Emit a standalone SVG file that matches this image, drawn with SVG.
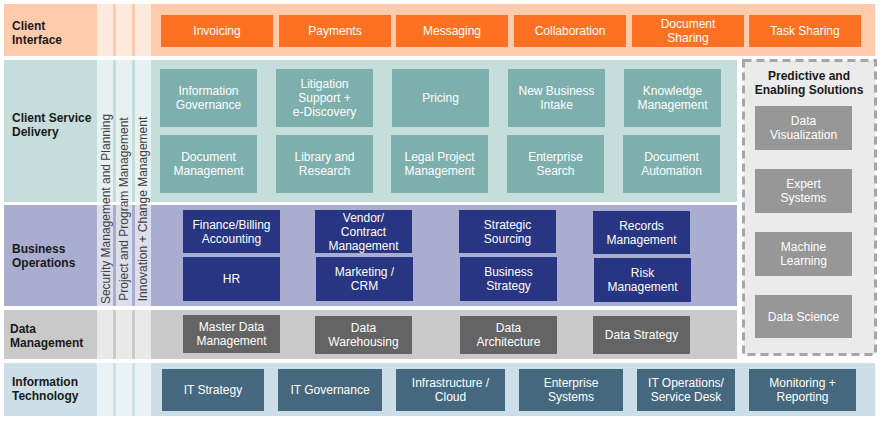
<svg xmlns="http://www.w3.org/2000/svg" width="885" height="423" viewBox="0 0 885 423">
<style>
text{font-family:"Liberation Sans",Arial,sans-serif;font-size:12px}
.lbl{font-weight:bold;fill:#1a1a1a}
.bt{fill:#ffffff;text-anchor:middle}
.vt{fill:#404040;text-anchor:middle}
.strip{fill:#ffffff;fill-opacity:0.6}
.or{fill:#FF7122}
.te{fill:#7DAFAD}
.nv{fill:#283582}
.dg{fill:#646464}
.sl{fill:#45687E}
.pg{fill:#979797}
.ttl{font-weight:bold;fill:#1a1a1a;text-anchor:middle}
</style>
<rect x="0" y="0" width="885" height="423" fill="#ffffff"/>
<g id="bands">
<rect x="4" y="4" width="871" height="52" fill="#FECBAC"/>
<rect x="4" y="60" width="733" height="142" fill="#C5DDDB"/>
<rect x="4" y="205" width="733" height="101" fill="#A9ADCF"/>
<rect x="4" y="310" width="733" height="49" fill="#C9C9C9"/>
<rect x="4" y="363" width="871" height="53" fill="#CCDFE8"/>
</g>
<g id="strips">
<rect class="strip" x="97" y="4" width="16" height="412"/>
<rect class="strip" x="116" y="4" width="16" height="412"/>
<rect class="strip" x="135" y="4" width="16" height="412"/>
<text class="vt" transform="translate(109.5,209) rotate(-90)">Security Management and Planning</text>
<text class="vt" transform="translate(128,209) rotate(-90)">Project and Program Management</text>
<text class="vt" transform="translate(146.5,209) rotate(-90)">Innovation + Change Management</text>
</g>
<g id="row-labels">
<text class="lbl" x="12" y="30">Client</text><text class="lbl" x="12" y="44">Interface</text>
<text class="lbl" x="12" y="122">Client Service</text><text class="lbl" x="12" y="136">Delivery</text>
<text class="lbl" x="12" y="253">Business</text><text class="lbl" x="12" y="267">Operations</text>
<text class="lbl" x="10" y="333">Data</text><text class="lbl" x="10" y="347">Management</text>
<text class="lbl" x="12" y="386">Information</text><text class="lbl" x="12" y="400">Technology</text>
</g>
<g id="connectors"/>
<g id="invoicing"><rect class="or" x="161" y="15" width="112" height="32"/><text class="bt" x="217" y="35.3">Invoicing</text></g>
<g id="payments"><rect class="or" x="279" y="15" width="112" height="32"/><text class="bt" x="335" y="35.3">Payments</text></g>
<g id="messaging"><rect class="or" x="396" y="15" width="112" height="32"/><text class="bt" x="452" y="35.3">Messaging</text></g>
<g id="collaboration"><rect class="or" x="514" y="15" width="112" height="32"/><text class="bt" x="570" y="35.3">Collaboration</text></g>
<g id="document-sharing"><rect class="or" x="632" y="15" width="112" height="32"/><text class="bt" x="688" y="28.3">Document</text><text class="bt" x="688" y="42.3">Sharing</text></g>
<g id="task-sharing"><rect class="or" x="749" y="15" width="112" height="32"/><text class="bt" x="805" y="35.3">Task Sharing</text></g>

<g id="information-governance"><rect class="te" x="160" y="69" width="97" height="58"/><text class="bt" x="208.5" y="95.3">Information</text><text class="bt" x="208.5" y="109.3">Governance</text></g>
<g id="litigation-support"><rect class="te" x="276" y="69" width="97" height="58"/><text class="bt" x="324.5" y="88.3">Litigation</text><text class="bt" x="324.5" y="102.3">Support +</text><text class="bt" x="324.5" y="116.3">e-Discovery</text></g>
<g id="pricing"><rect class="te" x="392" y="69" width="97" height="58"/><text class="bt" x="440.5" y="102.3">Pricing</text></g>
<g id="new-business-intake"><rect class="te" x="508" y="69" width="97" height="58"/><text class="bt" x="556.5" y="95.3">New Business</text><text class="bt" x="556.5" y="109.3">Intake</text></g>
<g id="knowledge-management"><rect class="te" x="624" y="69" width="97" height="58"/><text class="bt" x="672.5" y="95.3">Knowledge</text><text class="bt" x="672.5" y="109.3">Management</text></g>
<g id="document-management"><rect class="te" x="160" y="135" width="97" height="58"/><text class="bt" x="208.5" y="161.3">Document</text><text class="bt" x="208.5" y="175.3">Management</text></g>
<g id="library-research"><rect class="te" x="276" y="135" width="97" height="58"/><text class="bt" x="324.5" y="161.3">Library and</text><text class="bt" x="324.5" y="175.3">Research</text></g>
<g id="legal-project-management"><rect class="te" x="391" y="135" width="97" height="58"/><text class="bt" x="439.5" y="161.3">Legal Project</text><text class="bt" x="439.5" y="175.3">Management</text></g>
<g id="enterprise-search"><rect class="te" x="507" y="135" width="97" height="58"/><text class="bt" x="555.5" y="161.3">Enterprise</text><text class="bt" x="555.5" y="175.3">Search</text></g>
<g id="document-automation"><rect class="te" x="623" y="135" width="97" height="58"/><text class="bt" x="671.5" y="161.3">Document</text><text class="bt" x="671.5" y="175.3">Automation</text></g>

<g id="finance-billing"><rect class="nv" x="183" y="210" width="97" height="43"/><text class="bt" x="231.5" y="229.3">Finance/Billing</text><text class="bt" x="231.5" y="243.3">Accounting</text></g>
<g id="vendor-contract"><rect class="nv" x="315" y="210" width="97" height="43"/><text class="bt" x="363.5" y="221.8">Vendor/</text><text class="bt" x="363.5" y="235.8">Contract</text><text class="bt" x="363.5" y="249.8">Management</text></g>
<g id="strategic-sourcing"><rect class="nv" x="459" y="210" width="97" height="43"/><text class="bt" x="507.5" y="229.3">Strategic</text><text class="bt" x="507.5" y="243.3">Sourcing</text></g>
<g id="records-management"><rect class="nv" x="593" y="211" width="97" height="43"/><text class="bt" x="641.5" y="230.3">Records</text><text class="bt" x="641.5" y="244.3">Management</text></g>
<g id="hr"><rect class="nv" x="183" y="257" width="97" height="44"/><text class="bt" x="231.5" y="283.3">HR</text></g>
<g id="marketing-crm"><rect class="nv" x="316" y="257" width="97" height="44"/><text class="bt" x="364.5" y="276.3">Marketing /</text><text class="bt" x="364.5" y="290.3">CRM</text></g>
<g id="business-strategy"><rect class="nv" x="460" y="257" width="97" height="44"/><text class="bt" x="508.5" y="276.3">Business</text><text class="bt" x="508.5" y="290.3">Strategy</text></g>
<g id="risk-management"><rect class="nv" x="594" y="258" width="97" height="44"/><text class="bt" x="642.5" y="277.3">Risk</text><text class="bt" x="642.5" y="291.3">Management</text></g>

<g id="master-data-management"><rect class="dg" x="183" y="315" width="97" height="38"/><text class="bt" x="231.5" y="331.3">Master Data</text><text class="bt" x="231.5" y="345.3">Management</text></g>
<g id="data-warehousing"><rect class="dg" x="315" y="316" width="97" height="38"/><text class="bt" x="363.5" y="332.3">Data</text><text class="bt" x="363.5" y="346.3">Warehousing</text></g>
<g id="data-architecture"><rect class="dg" x="460" y="316" width="97" height="38"/><text class="bt" x="508.5" y="332.3">Data</text><text class="bt" x="508.5" y="346.3">Architecture</text></g>
<g id="data-strategy"><rect class="dg" x="593" y="316" width="97" height="38"/><text class="bt" x="641.5" y="339.3">Data Strategy</text></g>

<g id="it-strategy"><rect class="sl" x="162" y="369" width="102" height="42"/><text class="bt" x="213" y="394.3">IT Strategy</text></g>
<g id="it-governance"><rect class="sl" x="278" y="369" width="104" height="42"/><text class="bt" x="330" y="394.3">IT Governance</text></g>
<g id="infrastructure-cloud"><rect class="sl" x="396" y="369" width="109" height="42"/><text class="bt" x="450.5" y="387.3">Infrastructure /</text><text class="bt" x="450.5" y="401.3">Cloud</text></g>
<g id="enterprise-systems"><rect class="sl" x="519" y="369" width="104" height="42"/><text class="bt" x="571" y="387.3">Enterprise</text><text class="bt" x="571" y="401.3">Systems</text></g>
<g id="it-operations"><rect class="sl" x="637" y="369" width="98" height="42"/><text class="bt" x="686" y="387.3">IT Operations/</text><text class="bt" x="686" y="401.3">Service Desk</text></g>
<g id="monitoring-reporting"><rect class="sl" x="749" y="369" width="107" height="42"/><text class="bt" x="802.5" y="387.3">Monitoring +</text><text class="bt" x="802.5" y="401.3">Reporting</text></g>

<g id="predictive-enabling-solutions">
<rect x="743.5" y="60.5" width="132" height="294" fill="#EBEBEB" stroke="#A6A6A6" stroke-width="3" stroke-dasharray="8 5"/>
<text class="ttl" x="809" y="80">Predictive and</text>
<text class="ttl" x="809" y="94">Enabling Solutions</text>
</g>
<g id="data-visualization"><rect class="pg" x="755" y="106" width="97" height="44"/><text class="bt" x="803.5" y="125.3">Data</text><text class="bt" x="803.5" y="139.3">Visualization</text></g>
<g id="expert-systems"><rect class="pg" x="755" y="169" width="97" height="44"/><text class="bt" x="803.5" y="188.3">Expert</text><text class="bt" x="803.5" y="202.3">Systems</text></g>
<g id="machine-learning"><rect class="pg" x="755" y="232" width="97" height="44"/><text class="bt" x="803.5" y="251.3">Machine</text><text class="bt" x="803.5" y="265.3">Learning</text></g>
<g id="data-science"><rect class="pg" x="755" y="295" width="97" height="43"/><text class="bt" x="803.5" y="320.8">Data Science</text></g>
</svg>
